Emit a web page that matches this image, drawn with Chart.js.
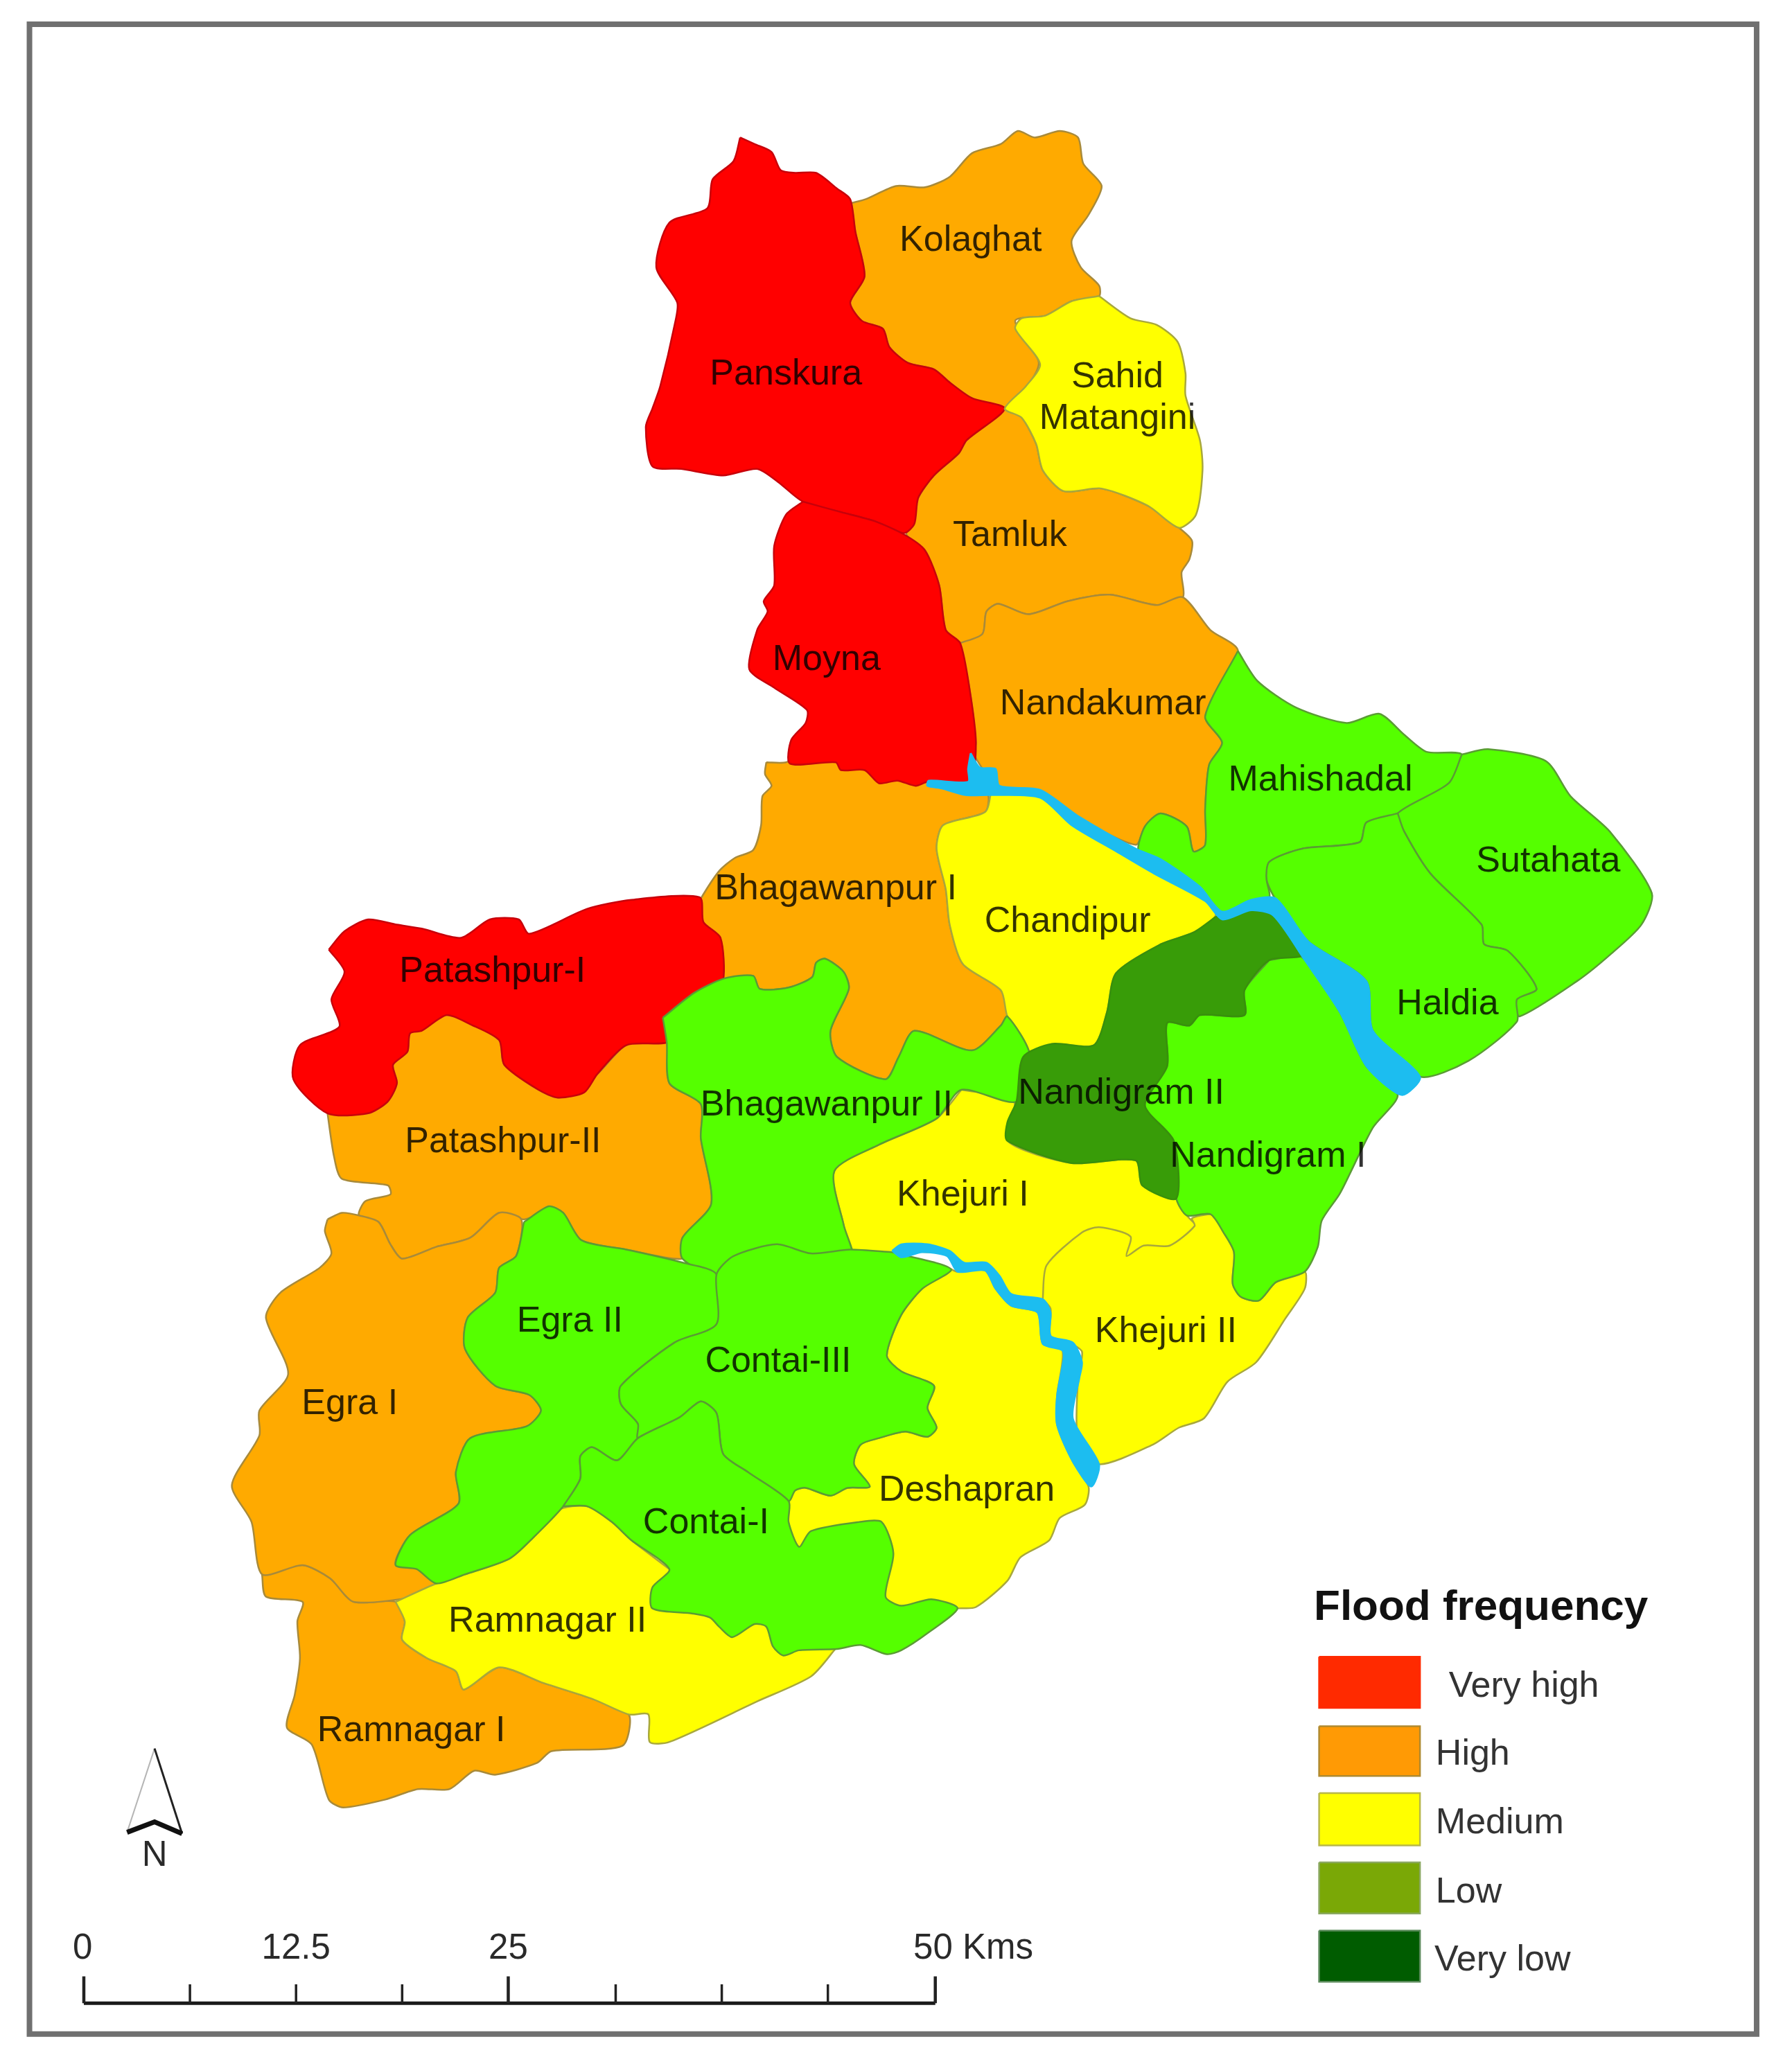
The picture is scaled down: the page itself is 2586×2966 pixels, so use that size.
<!DOCTYPE html>
<html>
<head>
<meta charset="utf-8">
<title>Flood frequency</title>
<script src="https://cdn.jsdelivr.net/npm/chart.js@4"></script>
<style>
  html, body { margin: 0; padding: 0; background: #fff; }
  canvas { display: block; }
</style>
</head>
<body>
<canvas id="mapChart" width="2586" height="2966"></canvas>
<script>
// block outlines (same units as the x/y scales below)
const kolaghat = [[650,155],[661,152],[684,142],[706,143],[725,135],[742,117],[764,110],[777,100],[790,105],[809,100],[823,105],[827,125],[841,142],[831,164],[818,184],[825,204],[839,218],[839,226],[818,230],[798,241],[775,245],[793,278],[767,312],[742,304],[725,292],[713,282],[693,277],[679,265],[674,251],[658,245],[649,231],[660,211],[653,177]];
const panskura = [[565,105],[576,110],[589,116],[596,130],[607,132],[623,132],[639,144],[649,152],[653,177],[660,211],[649,231],[658,245],[674,251],[679,265],[693,277],[713,282],[725,292],[742,304],[767,312],[738,336],[732,346],[713,363],[701,380],[698,400],[690,407],[668,398],[642,391],[613,383],[594,368],[578,358],[552,363],[520,358],[498,356],[493,326],[498,312],[504,295],[515,248],[517,231],[501,204],[511,170],[540,159],[544,137],[560,123]];
const sahidMatangini = [[839,226],[863,243],[883,248],[899,261],[905,285],[905,302],[916,336],[918,359],[913,393],[900,403],[876,386],[841,373],[812,375],[796,359],[791,339],[780,319],[767,312],[783,295],[794,278],[775,251],[780,243],[798,241],[818,230]];
const tamluk = [[767,312],[780,319],[791,339],[796,359],[812,375],[841,373],[876,386],[900,403],[910,413],[908,427],[902,437],[903,456],[883,462],[847,454],[815,459],[785,469],[762,461],[753,467],[750,484],[733,491],[722,481],[717,447],[706,420],[692,408],[701,380],[713,363],[732,346],[738,336]];
const moyna = [[613,383],[642,391],[668,398],[690,408],[706,420],[717,447],[722,481],[733,491],[740,525],[745,567],[740,597],[708,597],[699,600],[685,596],[671,598],[660,588],[642,588],[638,582],[603,583],[604,565],[615,552],[616,542],[591,525],[572,511],[578,481],[586,467],[583,459],[591,447],[591,417],[600,393]];
const nandakumar = [[733,491],[750,484],[753,467],[762,461],[785,469],[815,459],[847,454],[883,462],[903,456],[924,481],[945,497],[920,547],[933,567],[923,584],[920,618],[920,645],[911,650],[906,631],[886,621],[874,631],[867,645],[823,625],[788,604],[764,603],[744,577],[745,567],[740,525]];
const mahishadal = [[945,497],[960,520],[989,540],[1028,552],[1053,545],[1072,561],[1089,574],[1116,576],[1106,598],[1067,621],[1043,628],[1038,643],[994,648],[969,658],[967,672],[969,685],[955,689],[933,697],[916,679],[881,658],[869,650],[874,631],[886,621],[906,631],[911,650],[920,645],[920,618],[923,584],[933,567],[920,547]];
const sutahata = [[1116,576],[1136,572],[1180,581],[1199,608],[1229,635],[1261,682],[1253,706],[1229,729],[1204,749],[1160,776],[1158,763],[1173,755],[1151,726],[1133,721],[1131,706],[1092,667],[1072,635],[1067,621],[1106,598]];
const haldia = [[1067,621],[1072,635],[1092,667],[1131,706],[1133,721],[1151,726],[1173,755],[1158,763],[1158,780],[1121,810],[1084,822],[1048,787],[1043,749],[999,719],[974,687],[967,672],[969,658],[994,648],[1038,643],[1043,628]];
const chandipur = [[757,602],[790,603],[818,624],[852,644],[881,661],[920,683],[928,699],[911,712],[886,721],[852,743],[845,773],[835,798],[803,797],[786,805],[769,776],[764,756],[735,736],[725,706],[722,679],[715,648],[720,630],[752,620]];
const bhagawanpurOne = [[585,582],[600,582],[612,575],[640,572],[700,588],[735,590],[754,606],[752,620],[720,630],[715,648],[722,679],[725,706],[735,736],[764,756],[769,776],[764,783],[742,802],[698,787],[686,807],[676,824],[639,807],[634,787],[648,755],[644,742],[630,732],[623,735],[620,746],[602,754],[580,755],[575,745],[553,747],[535,735],[525,705],[535,686],[549,665],[561,655],[575,649],[581,630],[582,608],[589,600],[584,591]];
const bhagawanpurTwo = [[506,777],[530,758],[553,747],[575,745],[580,755],[602,754],[620,746],[623,735],[630,732],[644,742],[648,755],[634,787],[639,807],[676,824],[686,807],[698,787],[742,802],[764,783],[769,776],[786,805],[776,841],[734,832],[715,854],[671,874],[637,894],[644,935],[651,962],[622,965],[593,960],[553,968],[547,975],[521,961],[521,945],[543,919],[535,869],[535,843],[511,827],[509,796]];
const patashpurOne = [[251,725],[263,711],[281,702],[303,706],[322,709],[352,716],[374,702],[396,702],[404,713],[448,694],[482,687],[534,685],[537,704],[550,716],[552,749],[540,770],[520,785],[509,796],[478,798],[456,820],[446,834],[426,838],[411,832],[385,813],[381,794],[359,782],[341,775],[322,787],[313,789],[311,803],[300,813],[303,827],[296,841],[281,850],[250,850],[224,824],[229,798],[259,784],[253,763],[263,742]];
const patashpurTwo = [[250,850],[281,850],[296,841],[303,827],[300,813],[311,803],[313,789],[341,775],[381,794],[385,813],[426,838],[456,820],[478,798],[509,796],[511,827],[535,843],[535,869],[543,919],[521,945],[521,961],[478,954],[444,947],[422,924],[400,931],[381,926],[359,945],[333,952],[307,961],[298,950],[289,933],[274,928],[279,917],[298,912],[296,905],[261,900],[255,883]];
const egraOne = [[250,931],[261,926],[274,928],[289,933],[298,950],[307,961],[333,952],[359,945],[381,926],[398,931],[394,959],[381,968],[378,987],[357,1006],[355,1030],[378,1058],[404,1065],[413,1077],[402,1089],[359,1098],[348,1124],[350,1148],[313,1172],[302,1195],[330,1195],[335,1212],[318,1219],[270,1223],[252,1205],[231,1195],[200,1202],[192,1162],[177,1134],[198,1096],[198,1077],[220,1049],[203,1006],[214,987],[244,968],[253,957],[248,940]];
const egraTwo = [[400,933],[419,921],[430,926],[444,947],[478,954],[521,964],[547,973],[547,1011],[515,1025],[474,1058],[474,1072],[487,1087],[487,1098],[471,1115],[452,1105],[443,1112],[443,1129],[430,1150],[407,1174],[389,1190],[355,1202],[333,1209],[318,1198],[302,1195],[313,1172],[350,1148],[348,1124],[359,1098],[402,1089],[413,1077],[404,1065],[378,1058],[355,1030],[357,1006],[378,987],[381,968],[394,959]];
const contaiThree = [[681,956],[649,954],[619,957],[593,950],[560,959],[547,973],[547,1011],[515,1025],[474,1058],[474,1072],[487,1087],[487,1098],[519,1082],[535,1070],[547,1079],[552,1110],[571,1124],[602,1146],[607,1138],[615,1136],[634,1142],[647,1136],[664,1135],[652,1118],[657,1103],[671,1098],[691,1093],[708,1097],[715,1090],[708,1075],[713,1058],[688,1047],[677,1035],[688,1004],[704,984],[726,969]];
const contaiOne = [[430,1150],[443,1129],[443,1112],[452,1105],[471,1115],[487,1098],[519,1082],[535,1070],[547,1079],[552,1110],[571,1124],[602,1146],[602,1162],[610,1181],[619,1169],[656,1162],[673,1162],[682,1186],[676,1219],[688,1226],[711,1221],[731,1228],[708,1247],[688,1260],[677,1263],[657,1256],[639,1259],[610,1260],[598,1264],[590,1257],[585,1242],[576,1240],[559,1250],[549,1242],[542,1235],[529,1232],[498,1228],[498,1212],[511,1198],[482,1176],[467,1162],[448,1150]];
const ramnagarOne = [[200,1202],[231,1195],[252,1205],[270,1223],[302,1223],[309,1238],[307,1252],[326,1266],[348,1276],[354,1290],[381,1273],[415,1285],[452,1297],[480,1309],[475,1333],[421,1337],[410,1346],[378,1355],[362,1352],[343,1366],[319,1366],[294,1374],[262,1380],[251,1374],[238,1332],[219,1319],[225,1294],[229,1266],[227,1238],[231,1223],[203,1219]];
const ramnagarTwo = [[302,1223],[333,1209],[355,1202],[389,1190],[407,1174],[426,1153],[448,1150],[467,1162],[482,1176],[511,1198],[520,1205],[560,1215],[600,1235],[640,1254],[636,1261],[619,1280],[578,1299],[511,1330],[496,1330],[495,1309],[480,1309],[452,1297],[415,1285],[381,1273],[354,1290],[348,1276],[326,1266],[307,1252],[309,1238]];
const deshapran = [[726,969],[731,971],[752,970],[760,984],[772,997],[792,1002],[796,1026],[811,1031],[807,1065],[807,1088],[819,1116],[831,1135],[828,1149],[809,1159],[801,1176],[779,1189],[769,1207],[745,1227],[731,1228],[711,1232],[690,1232],[668,1222],[672,1204],[678,1189],[666,1172],[644,1175],[618,1175],[610,1186],[600,1178],[598,1154],[607,1138],[615,1136],[634,1142],[647,1136],[664,1135],[652,1118],[657,1103],[671,1098],[691,1093],[708,1097],[715,1090],[708,1075],[713,1058],[688,1047],[677,1035],[688,1004],[704,984]];
const khejuriOne = [[734,832],[774,841],[769,871],[818,888],[867,886],[872,905],[898,915],[906,928],[920,945],[890,965],[864,970],[835,960],[810,965],[800,985],[796,996],[770,992],[760,978],[750,968],[735,968],[725,958],[708,956],[690,956],[675,960],[651,962],[644,935],[637,894],[671,874],[715,854]];
const khejuriTwo = [[796,992],[799,966],[826,941],[839,937],[863,944],[860,959],[873,951],[893,951],[912,936],[910,930],[930,928],[942,956],[941,980],[947,990],[961,993],[974,979],[996,971],[996,984],[981,1007],[959,1040],[937,1055],[919,1083],[900,1090],[880,1103],[839,1118],[823,1100],[823,1052],[826,1032],[816,1025],[802,1020],[802,999]];
const nandigramOne = [[969,733],[994,731],[1023,773],[1043,814],[1067,836],[1048,861],[1023,911],[1009,932],[1006,952],[996,971],[974,979],[961,993],[947,990],[941,980],[942,956],[934,941],[924,927],[906,928],[898,915],[896,871],[874,844],[891,814],[891,781],[908,783],[916,775],[950,775],[950,756]];
const nandigramTwo = [[928,700],[955,695],[972,699],[994,729],[969,733],[950,756],[950,775],[916,775],[908,783],[891,781],[891,814],[874,844],[896,871],[898,915],[872,905],[867,886],[818,888],[769,871],[769,857],[776,841],[781,807],[803,797],[835,798],[845,773],[852,743],[886,721],[911,712]];
const riverRupnarayan = [[741,575],[748,586],[760,587],[763,600],[794,603],[823,623],[867,648],[886,656],[916,677],[933,696],[955,687],[974,686],[999,719],[1043,749],[1048,787],[1084,822],[1070,836],[1043,814],[1023,773],[996,733],[972,699],[955,695],[933,702],[920,688],[881,667],[852,650],[818,630],[794,609],[756,607],[737,607],[719,602],[708,600],[709,596],[739,597],[739,587]];
const riverRasulpur = [[681,955],[688,950],[708,950],[725,955],[736,964],[753,964],[763,974],[772,988],[796,992],[802,1002],[802,1020],[819,1025],[826,1040],[824,1052],[819,1083],[839,1118],[833,1135],[819,1116],[807,1088],[807,1065],[812,1037],[811,1031],[796,1026],[792,1002],[772,997],[760,984],[752,970],[731,971],[723,959],[704,956],[688,960]];

const blockNames = ['Kolaghat', 'Panskura', 'Sahid', 'Matangini', 'Tamluk', 'Moyna', 'Nandakumar', 'Mahishadal', 'Sutahata', 'Bhagawanpur I', 'Chandipur', 'Patashpur-I', 'Haldia', 'Nandigram II', 'Bhagawanpur II', 'Patashpur-II', 'Nandigram I', 'Khejuri I', 'Egra II', 'Khejuri II', 'Contai-III', 'Egra I', 'Deshapran', 'Contai-I', 'Ramnagar II', 'Ramnagar I'];
const blockNameX = [741, 600, 853, 853, 771, 631, 842, 1008, 1182, 638, 815, 376, 1105, 856, 631, 384, 968, 735, 435, 890, 594, 267, 738, 539, 418, 314];
const blockNameY = [184, 286, 288, 320, 409, 504, 538, 596, 658, 679, 704, 742, 767, 835, 844, 872, 883, 913, 1009, 1017, 1040, 1072, 1138, 1163, 1238, 1322];

const legendTitle = 'Flood frequency';
const legendLabels = ['Very high', 'High', 'Medium', 'Low', 'Very low'];
const legendColors = ['#ff2a00', '#ff9a05', '#ffff00', '#7aa806', '#005c00'];
const legendBorders = ['#ff2a00', '#b08a30', '#b8b84a', '#8aa860', '#5a8a5a'];
const legendTop = [1265, 1318, 1369, 1422, 1474];
const legendBottom = [1304, 1356, 1409, 1461, 1513];
const legendTextX = [1106, 1096, 1096, 1096, 1095];
const legendTextY = [1288, 1340, 1392, 1445, 1497];

const scaleTicks = [64, 145, 226, 307, 388, 470, 551, 632, 714];
const scaleTickTop = [1509, 1515, 1515, 1515, 1509, 1515, 1515, 1515, 1509];
const scaleLabels = ['0', '12.5', '25', '50 Kms'];
const scaleLabelX = [63, 226, 388, 743];

const frameCorners = [[22.5,18.5],[1341,18.5],[1341,1553],[22.5,1553]];

const RED = '#ff0000', ORANGE = '#ffaa00', YELLOW = '#ffff00', GREEN = '#55ff00', DARK = '#389c08', WATER = '#1cbdf0';
const edgeColors = {};
edgeColors[RED] = '#c8000a';
edgeColors[ORANGE] = '#a88a3a';
edgeColors[YELLOW] = '#a8a83c';
edgeColors[GREEN] = '#5a9c34';
edgeColors[DARK] = '#38900c';
edgeColors[WATER] = WATER;
const XMAX = 1368, YMAX = 1569;

function toPoints(list) {
    return list.map(p => ({ x: p[0], y: p[1] }));
}

function region(list, color) {
    return {
        data: toPoints(list.concat([list[0]])),
        showLine: true,
        fill: 'shape',
        backgroundColor: color,
        borderColor: edgeColors[color],
        borderWidth: 2.5,
        tension: 0.25,
        pointRadius: 0
    };
}

function stroke(list, color, width) {
    return {
        data: toPoints(list),
        showLine: true,
        fill: false,
        borderColor: color,
        borderWidth: width,
        pointRadius: 0
    };
}

const datasets = [
    region(kolaghat, ORANGE),
    region(tamluk, ORANGE),
    region(nandakumar, ORANGE),
    region(bhagawanpurOne, ORANGE),
    region(patashpurTwo, ORANGE),
    region(ramnagarOne, ORANGE),
    region(egraOne, ORANGE),
    region(panskura, RED),
    region(moyna, RED),
    region(patashpurOne, RED),
    region(sahidMatangini, YELLOW),
    region(chandipur, YELLOW),
    region(khejuriOne, YELLOW),
    region(khejuriTwo, YELLOW),
    region(deshapran, YELLOW),
    region(ramnagarTwo, YELLOW),
    region(mahishadal, GREEN),
    region(sutahata, GREEN),
    region(haldia, GREEN),
    region(bhagawanpurTwo, GREEN),
    region(egraTwo, GREEN),
    region(contaiThree, GREEN),
    region(contaiOne, GREEN),
    region(nandigramOne, GREEN),
    region(nandigramTwo, DARK),
    region(riverRupnarayan, WATER),
    region(riverRasulpur, WATER)
];

// legend swatches
legendColors.forEach((color, i) => {
    const box = [[1007, legendTop[i]], [1084, legendTop[i]], [1084, legendBottom[i]], [1007, legendBottom[i]]];
    const ds = region(box, color);
    ds.borderColor = legendBorders[i];
    ds.tension = 0;
    datasets.push(ds);
});

// scale bar
datasets.push(stroke([[64, 1529.5], [714, 1529.5]], '#1a1a1a', 5));
scaleTicks.forEach((x, i) => {
    datasets.push(stroke([[x, scaleTickTop[i]], [x, 1529.5]], '#222222', i % 4 === 0 ? 4.5 : 3.5));
});

// north arrow
datasets.push(stroke([[118, 1335], [97, 1399]], '#b5b5b5', 2));
datasets.push(stroke([[118, 1335], [139, 1400]], '#222222', 3));
datasets.push(stroke([[97, 1399], [118, 1391], [139, 1400]], '#111111', 7));

// frame
datasets.push(stroke(frameCorners.concat([frameCorners[0], frameCorners[1]]), '#707070', 8));

const textPlugin = {
    id: 'mapText',
    afterDatasetsDraw(chart) {
        const ctx = chart.ctx;
        const x = chart.scales.x;
        const y = chart.scales.y;
        ctx.save();
        ctx.textBaseline = 'middle';

        ctx.textAlign = 'center';
        ctx.font = '52px "Liberation Sans"';
        ctx.fillStyle = 'rgba(0, 0, 0, 0.8)';
        blockNames.forEach((name, i) => {
            ctx.fillText(name, x.getPixelForValue(blockNameX[i]), y.getPixelForValue(blockNameY[i]));
        });

        ctx.font = '51px "Liberation Sans"';
        ctx.fillStyle = '#2a2a2a';
        scaleLabels.forEach((label, i) => {
            ctx.fillText(label, x.getPixelForValue(scaleLabelX[i]), y.getPixelForValue(1488));
        });
        ctx.fillText('N', x.getPixelForValue(118), y.getPixelForValue(1417));

        ctx.textAlign = 'left';
        ctx.fillStyle = '#333333';
        ctx.font = '52px "Liberation Sans"';
        legendLabels.forEach((label, i) => {
            ctx.fillText(label, x.getPixelForValue(legendTextX[i]), y.getPixelForValue(legendTextY[i]));
        });

        ctx.fillStyle = '#111111';
        ctx.font = 'bold 62px "Liberation Sans"';
        ctx.fillText(legendTitle, x.getPixelForValue(1003), y.getPixelForValue(1228));
        ctx.restore();
    }
};

new Chart(document.getElementById('mapChart'), {
    type: 'scatter',
    // chart.js paints the first dataset last, the list above is bottom to top
    data: { datasets: datasets.reverse() },
    options: {
        responsive: false,
        animation: false,
        devicePixelRatio: 1,
        layout: { padding: 0 },
        plugins: {
            legend: { display: false },
            tooltip: { enabled: false }
        },
        scales: {
            x: { type: 'linear', min: 0, max: XMAX, display: false },
            y: { type: 'linear', min: 0, max: YMAX, reverse: true, display: false }
        }
    },
    plugins: [textPlugin]
});
</script>
</body>
</html>
